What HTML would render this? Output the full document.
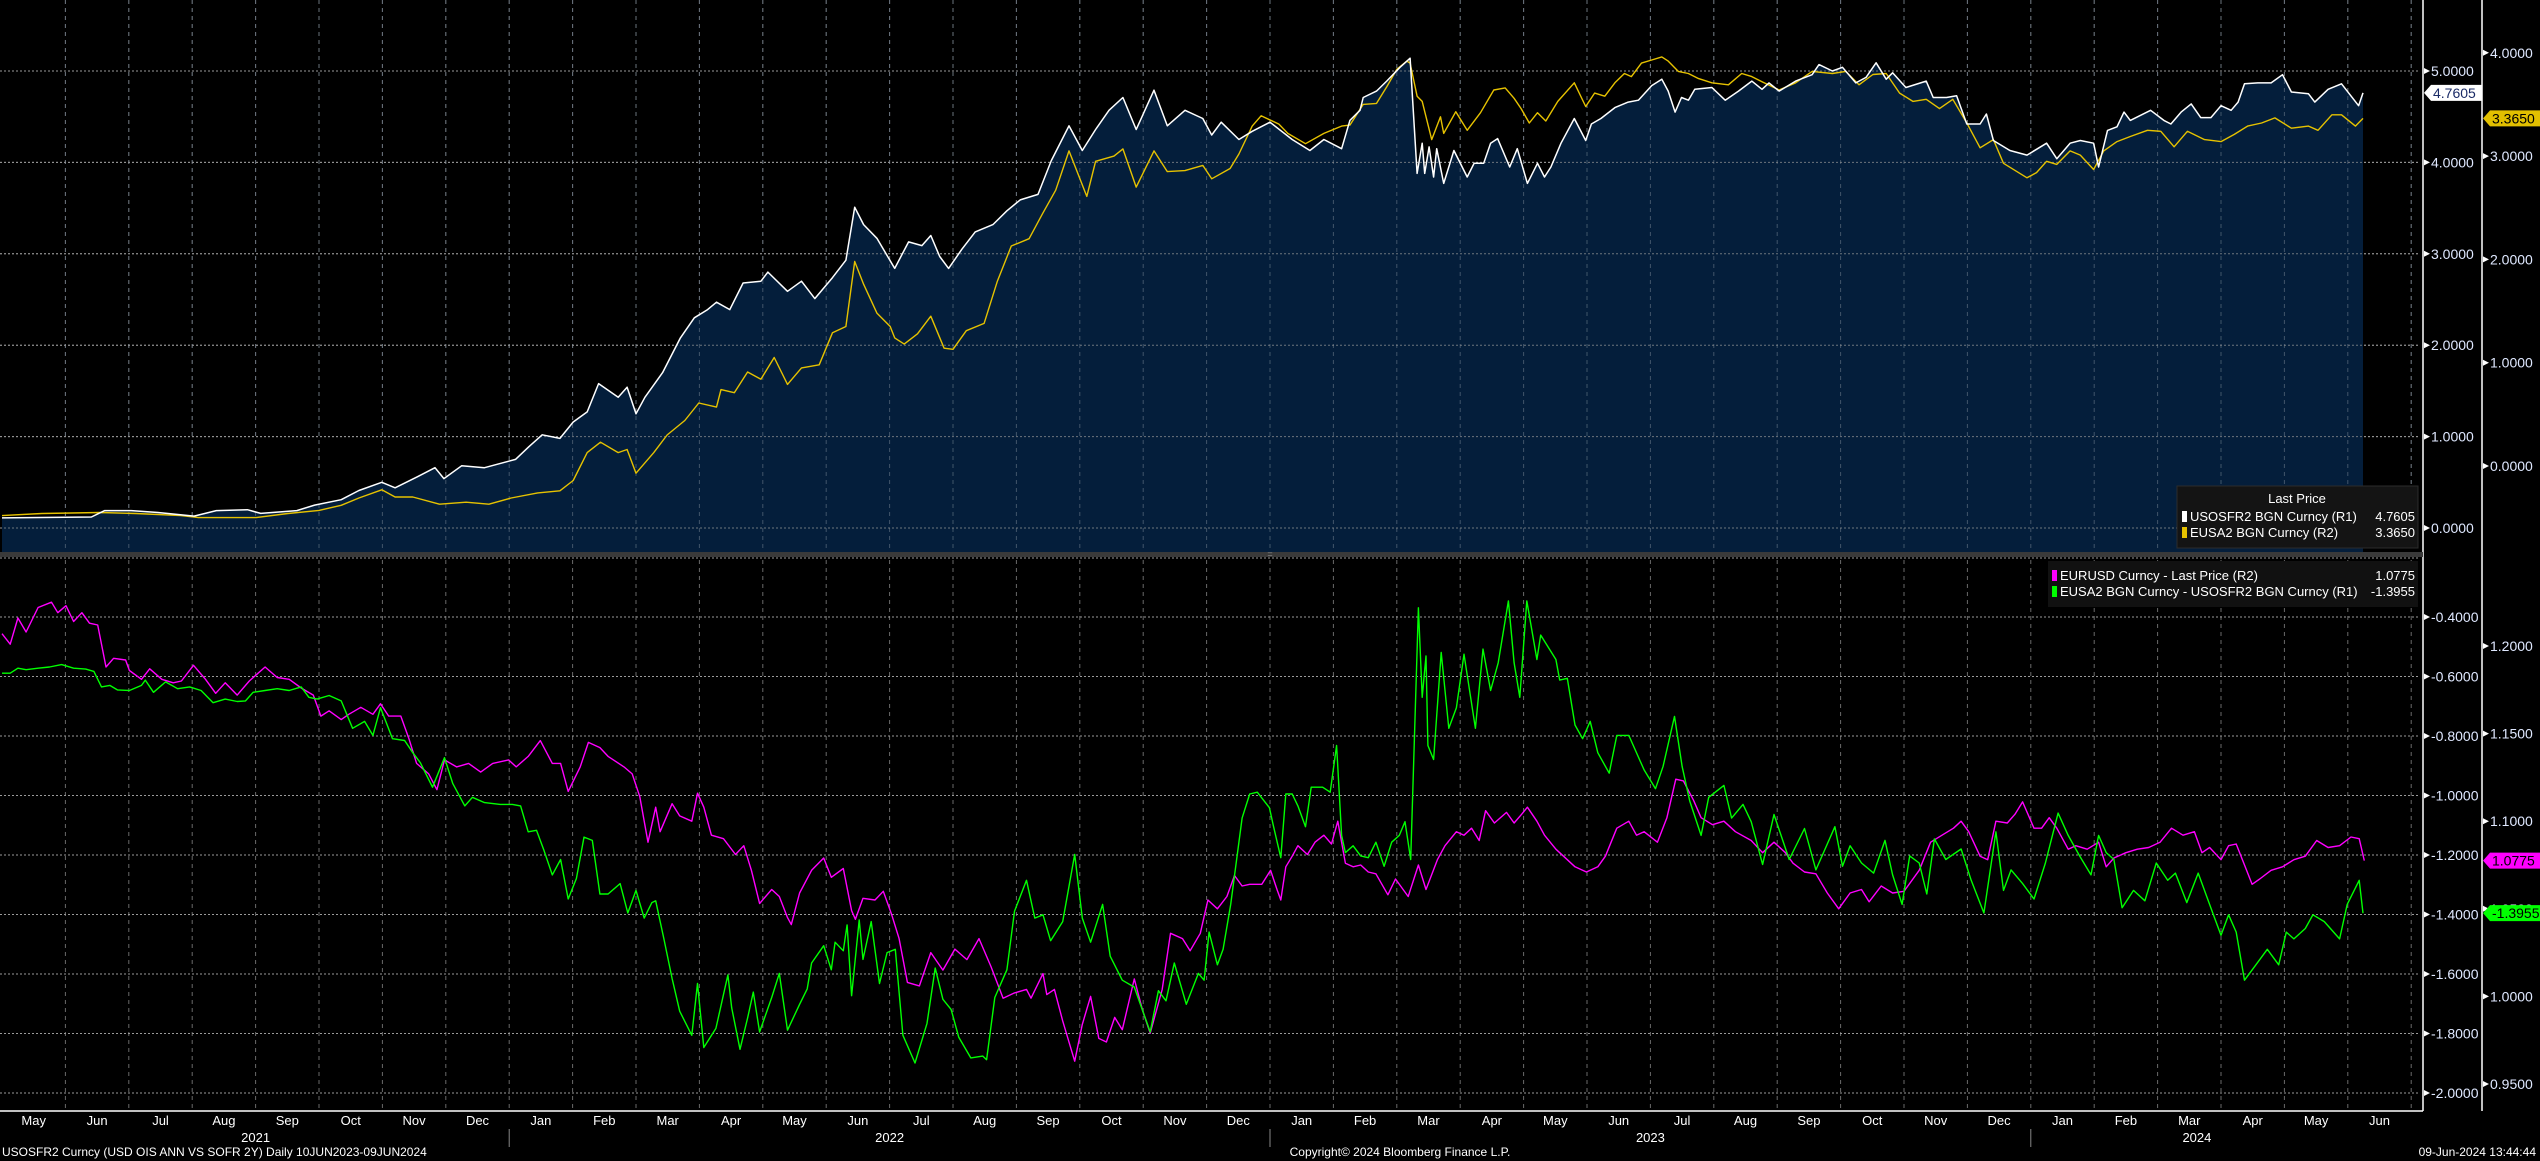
<!DOCTYPE html>
<html><head><meta charset="utf-8"><title>USOSFR2 vs EUSA2</title>
<style>
html,body{margin:0;padding:0;background:#000;}
svg{display:block;}
text{font-family:"Liberation Sans Narrow","Liberation Sans",sans-serif;}
</style></head>
<body>
<svg id="chart" width="2540" height="1161" viewBox="0 0 2540 1161" xmlns="http://www.w3.org/2000/svg">
<rect x="0" y="0" width="2540" height="1161" fill="#000"/>
<g id="grid"></g>
<g id="topPanel"></g>
<g id="bottomPanel"></g>
<g id="axes"></g>
<rect x="0" y="552" width="2423" height="5" fill="#3a3a3a"/>
<text x="1270" y="557" fill="#888" font-size="9" text-anchor="middle">=</text>

<g>
<rect x="2177" y="486" width="241" height="62" fill="#141414" stroke="#2c2c2c"/>
<text x="2297" y="503" fill="#fff" font-size="13" text-anchor="middle">Last Price</text>
<rect x="2182" y="511" width="5" height="11" fill="#fff"/>
<text x="2190" y="521" fill="#fff" font-size="13">USOSFR2 BGN Curncy  (R1)</text>
<text x="2415" y="521" fill="#fff" font-size="13" text-anchor="end">4.7605</text>
<rect x="2182" y="527" width="5" height="11" fill="#e6c200"/>
<text x="2190" y="537" fill="#fff" font-size="13">EUSA2 BGN Curncy  (R2)</text>
<text x="2415" y="537" fill="#fff" font-size="13" text-anchor="end">3.3650</text>
</g>

<g>
<rect x="2048" y="561" width="370" height="46" fill="#111"/>
<rect x="2052" y="570" width="5" height="11" fill="#ff00ff"/>
<text x="2060" y="580" fill="#fff" font-size="13">EURUSD Curncy - Last Price (R2)</text>
<text x="2415" y="580" fill="#fff" font-size="13" text-anchor="end">1.0775</text>
<rect x="2052" y="586" width="5" height="11" fill="#00ff00"/>
<text x="2060" y="596" fill="#fff" font-size="13">EUSA2 BGN Curncy - USOSFR2 BGN Curncy (R1)</text>
<text x="2415" y="596" fill="#fff" font-size="13" text-anchor="end">-1.3955</text>
</g>

<text x="2" y="1156" fill="#fff" font-size="12">USOSFR2 Curncy (USD OIS  ANN VS SOFR 2Y)  Daily 10JUN2023-09JUN2024</text>
<text x="1400" y="1156" fill="#fff" font-size="12" text-anchor="middle">Copyright© 2024 Bloomberg Finance L.P.</text>
<text x="2536" y="1156" fill="#fff" font-size="12" text-anchor="end">09-Jun-2024 13:44:44</text>
</svg>
<script>
// ---- data (t = months since 1 May 2021) ----
const usT=[0,1.41,1.62,2.04,2.46,3.03,3.38,3.87,4.08,4.65,4.93,5.35,5.63,5.99,6.20,6.55,6.83,6.97,7.25,7.61,8.10,8.31,8.52,8.80,9.01,9.23,9.41,9.72,9.86,10.0,10.14,10.42,10.70,10.92,11.13,11.27,11.48,11.69,11.97,12.08,12.39,12.61,12.82,13.10,13.31,13.45,13.59,13.80,14.08,14.30,14.51,14.65,14.79,14.93,15.14,15.35,15.63,15.85,16.06,16.34,16.55,16.83,17.04,17.25,17.46,17.68,17.89,18.17,18.38,18.66,18.94,19.08,19.23,19.51,19.72,20.0,20.35,20.63,20.85,21.13,
21.26,21.42,21.47,21.68,21.84,22.05,22.21,22.32,22.40,22.44,22.51,22.58,22.63,22.74,22.90,23.11,23.22,23.37,23.48,23.59,23.78,23.90,24.06,24.22,24.33,24.43,24.59,24.80,24.98,25.07,25.22,25.44,25.65,25.81,26.02,26.18,26.28,26.39,26.49,26.60,26.70,26.97,27.18,27.39,27.60,27.76,27.87,28.03,28.29,28.55,28.66,28.87,29.03,29.24,29.40,29.56,29.72,29.82,30.03,30.35,30.46,30.67,30.83,30.99,31.20,31.30,31.41,31.67,31.94,32.25,32.41,32.62,32.78,32.99,33.07,33.21,33.36,33.47,33.57,33.89,34.10,34.21,34.37,34.53,34.68,34.84,35.0,35.16,35.27,35.37,35.58,35.79,35.97,36.11,36.38,36.48,36.69,36.90,37.17,37.24];
const usV=[0.11,0.12,0.19,0.19,0.17,0.13,0.19,0.20,0.16,0.19,0.25,0.31,0.41,0.50,0.44,0.56,0.66,0.54,0.68,0.66,0.75,0.89,1.02,0.98,1.16,1.27,1.58,1.43,1.54,1.25,1.43,1.70,2.08,2.30,2.39,2.47,2.39,2.68,2.70,2.80,2.59,2.70,2.51,2.74,2.93,3.51,3.32,3.17,2.84,3.13,3.09,3.20,2.97,2.84,3.05,3.24,3.32,3.47,3.59,3.65,4.02,4.40,4.13,4.36,4.57,4.71,4.36,4.79,4.40,4.57,4.48,4.30,4.44,4.25,4.34,4.44,4.25,4.13,4.25,4.15,
4.46,4.57,4.71,4.78,4.89,5.04,5.14,3.88,4.21,3.88,4.17,3.84,4.15,3.77,4.13,3.84,3.99,3.99,4.21,4.26,3.95,4.15,3.77,3.99,3.84,3.95,4.21,4.48,4.24,4.42,4.48,4.60,4.66,4.68,4.84,4.91,4.78,4.55,4.71,4.68,4.80,4.82,4.68,4.78,4.89,4.80,4.87,4.78,4.89,4.96,5.07,5.00,5.04,4.87,4.93,5.09,4.91,4.98,4.82,4.89,4.71,4.71,4.73,4.42,4.42,4.53,4.24,4.13,4.08,4.21,4.04,4.21,4.24,4.21,3.95,4.35,4.39,4.55,4.46,4.57,4.46,4.42,4.55,4.64,4.49,4.49,4.62,4.57,4.66,4.86,4.87,4.87,4.96,4.77,4.75,4.66,4.80,4.86,4.62,4.7605];
const euT=[0,0.63,1.55,2.11,2.82,3.10,4.01,4.51,5.0,5.35,5.63,5.99,6.20,6.48,6.90,7.32,7.68,8.03,8.45,8.80,9.01,9.23,9.44,9.72,9.86,10.0,10.28,10.49,10.77,10.99,11.27,11.34,11.55,11.76,11.97,12.18,12.39,12.61,12.89,13.10,13.31,13.45,13.59,13.80,14.01,14.08,14.23,14.44,14.65,14.86,15.0,15.21,15.49,15.70,15.92,16.20,16.41,16.62,16.83,17.11,17.25,17.54,17.68,17.89,18.17,18.38,18.66,18.94,19.08,19.37,19.51,19.72,19.86,20.14,20.28,20.56,20.85,21.13,
21.26,21.47,21.68,21.84,22.0,22.16,22.21,22.32,22.40,22.55,22.69,22.74,22.93,23.11,23.32,23.53,23.71,23.85,23.96,24.09,24.22,24.35,24.54,24.80,24.98,25.12,25.28,25.44,25.59,25.70,25.86,26.02,26.18,26.28,26.44,26.60,26.76,26.97,27.23,27.44,27.60,27.76,28.03,28.29,28.55,28.87,29.08,29.29,29.51,29.72,29.93,30.14,30.35,30.56,30.77,30.99,31.20,31.41,31.57,31.94,32.09,32.25,32.41,32.62,32.78,32.99,33.15,33.36,33.57,33.84,34.05,34.26,34.47,34.74,35.0,35.21,35.42,35.64,35.85,36.11,36.38,36.53,36.75,36.90,37.12,37.24];
const euV=[-0.48,-0.46,-0.45,-0.46,-0.48,-0.50,-0.50,-0.46,-0.43,-0.38,-0.31,-0.23,-0.30,-0.30,-0.37,-0.35,-0.37,-0.31,-0.26,-0.24,-0.14,0.13,0.23,0.13,0.16,-0.07,0.13,0.30,0.44,0.61,0.57,0.74,0.71,0.91,0.84,1.05,0.79,0.95,0.98,1.29,1.35,1.98,1.76,1.48,1.35,1.24,1.18,1.28,1.45,1.14,1.13,1.31,1.38,1.79,2.13,2.20,2.44,2.67,3.05,2.61,2.95,3.00,3.07,2.70,3.05,2.85,2.86,2.91,2.78,2.88,3.02,3.29,3.39,3.31,3.22,3.12,3.22,3.29,
3.30,3.50,3.51,3.67,3.84,3.92,3.90,3.58,3.53,3.16,3.38,3.22,3.43,3.25,3.42,3.64,3.66,3.56,3.46,3.32,3.42,3.34,3.53,3.71,3.48,3.61,3.58,3.71,3.80,3.77,3.90,3.93,3.96,3.92,3.82,3.80,3.75,3.71,3.69,3.80,3.77,3.72,3.64,3.71,3.82,3.80,3.82,3.69,3.79,3.80,3.61,3.53,3.55,3.46,3.55,3.32,3.08,3.16,2.93,2.79,2.84,2.95,2.92,3.05,3.01,2.87,3.05,3.14,3.19,3.25,3.24,3.09,3.24,3.16,3.14,3.21,3.29,3.32,3.37,3.27,3.29,3.25,3.40,3.40,3.29,3.365];
const fxT=[0,.13,.25,.38,.57,.78,.88,1.01,1.13,1.26,1.38,1.51,1.64,1.76,1.95,2.01,2.20,2.33,2.52,2.70,2.83,3.02,3.21,3.37,3.52,3.71,3.90,4.15,4.34,4.53,4.72,4.91,5.03,5.16,5.35,5.47,5.66,5.85,5.97,6.10,6.29,6.42,6.54,6.73,6.86,6.98,7.17,7.36,7.55,7.74,7.99,8.11,8.30,8.49,8.68,8.81,8.93,9.12,9.25,9.43,9.56,9.81,9.94,10.06,10.19,10.31,10.38,10.57,10.69,10.88,10.97,11.07,11.19,11.38,11.57,11.70,11.82,11.95,12.14,12.26,12.39,12.45,12.58,12.77,12.96,13.08,13.27,13.40,13.46,13.58,13.77,13.90,14.03,14.15,14.28,14.47,14.65,14.84,15.03,15.22,15.41,15.60,15.79,15.97,16.16,16.23,16.42,16.48,16.60,16.73,16.92,17.04,17.17,17.30,17.42,17.55,17.67,17.86,17.99,18.11,18.30,18.43,18.62,18.74,
18.90,19.02,19.17,19.32,19.44,19.56,19.68,19.87,20.01,20.11,20.17,20.25,20.35,20.44,20.59,20.71,20.85,20.97,21.07,21.19,21.31,21.43,21.55,21.67,21.86,21.98,22.10,22.18,22.34,22.46,22.64,22.76,22.94,23.06,23.18,23.30,23.40,23.54,23.73,23.85,23.97,24.06,24.21,24.33,24.51,24.63,24.81,24.99,25.17,25.29,25.47,25.66,25.78,25.90,26.11,26.26,26.40,26.52,26.68,26.80,26.98,27.16,27.34,27.59,27.77,27.95,28.13,28.25,28.43,28.61,28.79,28.97,29.15,29.33,29.45,29.64,29.82,30.00,30.24,30.42,30.60,30.78,30.90,31.02,31.20,31.32,31.45,31.63,31.75,31.87,32.05,32.17,32.29,32.41,32.59,32.71,32.89,33.07,33.19,33.31,33.50,33.68,33.86,34.04,34.22,34.40,34.58,34.70,34.82,35.00,35.12,35.24,35.37,35.49,35.61,35.79,35.97,36.15,36.33,36.51,36.69,36.87,37.05,37.18,37.26];
const fxV=[1.207,1.201,1.216,1.208,1.222,1.225,1.219,1.223,1.214,1.219,1.213,1.212,1.188,1.193,1.192,1.186,1.181,1.187,1.181,1.179,1.180,1.189,1.181,1.173,1.179,1.172,1.180,1.188,1.182,1.181,1.176,1.172,1.160,1.163,1.158,1.161,1.165,1.161,1.167,1.160,1.160,1.147,1.133,1.127,1.118,1.135,1.131,1.133,1.128,1.133,1.135,1.131,1.137,1.146,1.133,1.133,1.117,1.131,1.145,1.142,1.137,1.131,1.127,1.114,1.088,1.108,1.094,1.110,1.103,1.100,1.116,1.108,1.092,1.090,1.081,1.086,1.072,1.053,1.061,1.057,1.045,1.041,1.059,1.072,1.079,1.068,1.073,1.049,1.044,1.056,1.055,1.060,1.047,1.033,1.008,1.006,1.025,1.015,1.027,1.021,1.033,1.017,0.999,1.002,1.004,0.999,1.013,1.001,1.004,0.986,0.963,0.984,1.000,0.976,0.974,0.988,0.981,1.010,0.992,0.979,1.004,1.036,1.033,1.026,
1.036,1.055,1.050,1.057,1.069,1.063,1.064,1.064,1.072,1.061,1.055,1.074,1.080,1.086,1.081,1.088,1.092,1.087,1.100,1.076,1.074,1.075,1.071,1.070,1.058,1.067,1.061,1.057,1.075,1.061,1.078,1.086,1.094,1.092,1.096,1.089,1.106,1.099,1.105,1.099,1.104,1.108,1.100,1.092,1.084,1.080,1.074,1.071,1.074,1.080,1.096,1.100,1.092,1.094,1.088,1.102,1.124,1.123,1.112,1.102,1.098,1.100,1.094,1.089,1.082,1.088,1.082,1.076,1.071,1.070,1.059,1.050,1.059,1.061,1.054,1.063,1.059,1.060,1.072,1.088,1.092,1.096,1.100,1.094,1.080,1.078,1.100,1.099,1.104,1.111,1.096,1.096,1.102,1.096,1.084,1.086,1.084,1.088,1.074,1.079,1.082,1.084,1.085,1.088,1.096,1.092,1.094,1.082,1.085,1.078,1.086,1.087,1.075,1.064,1.067,1.072,1.074,1.078,1.080,1.089,1.085,1.086,1.091,1.090,1.0775];
const spT=[0,.13,.25,.38,.57,.75,.94,1.13,1.32,1.45,1.57,1.70,1.82,2.01,2.20,2.26,2.39,2.58,2.77,2.96,3.14,3.33,3.52,3.71,3.84,3.96,4.15,4.34,4.53,4.72,4.84,4.97,5.16,5.35,5.53,5.72,5.85,5.97,6.16,6.35,6.48,6.60,6.79,6.98,7.11,7.30,7.42,7.61,7.86,8.05,8.18,8.30,8.43,8.55,8.68,8.81,8.93,9.06,9.18,9.31,9.43,9.56,9.75,9.87,10.0,10.13,10.25,10.31,10.44,10.57,10.69,10.88,10.97,11.07,11.26,11.45,11.51,11.64,11.76,11.85,11.95,12.14,12.26,12.39,12.58,12.70,12.77,12.96,13.08,13.14,13.27,13.33,13.40,13.52,13.58,13.71,13.84,13.96,14.09,14.21,14.40,14.59,14.72,14.84,14.97,15.09,15.28,15.47,15.53,15.66,15.85,15.97,16.16,16.29,16.42,16.54,16.73,16.92,17.04,17.17,17.36,17.48,17.67,17.86,18.11,18.24,18.36,18.49,18.68,18.87,
18.96,19.04,19.17,19.26,19.38,19.56,19.68,19.80,19.99,20.05,20.17,20.25,20.35,20.44,20.56,20.65,20.83,20.95,21.05,21.13,21.19,21.31,21.43,21.55,21.67,21.80,21.92,22.04,22.13,22.22,22.34,22.40,22.46,22.49,22.58,22.70,22.82,22.94,23.06,23.24,23.36,23.48,23.60,23.76,23.85,23.94,24.05,24.21,24.27,24.51,24.57,24.69,24.81,24.93,25.05,25.17,25.35,25.47,25.66,25.90,26.08,26.20,26.38,26.50,26.62,26.80,26.92,27.16,27.28,27.46,27.59,27.77,27.95,28.19,28.43,28.61,28.73,28.91,29.03,29.15,29.33,29.52,29.70,29.82,29.97,30.09,30.24,30.36,30.48,30.66,30.90,31.06,31.26,31.45,31.57,31.69,31.87,32.05,32.23,32.43,32.59,32.77,32.95,33.07,33.19,33.31,33.44,33.62,33.80,33.98,34.16,34.28,34.46,34.64,34.76,34.88,35.00,35.12,35.24,35.37,35.55,35.73,35.91,36.03,36.15,36.33,36.45,36.63,36.87,36.99,37.18,37.24];
const spV=[-0.589,-0.589,-0.572,-0.577,-0.572,-0.568,-0.560,-0.572,-0.575,-0.583,-0.635,-0.630,-0.645,-0.647,-0.630,-0.612,-0.653,-0.618,-0.641,-0.635,-0.647,-0.688,-0.676,-0.684,-0.682,-0.653,-0.647,-0.641,-0.647,-0.635,-0.670,-0.676,-0.664,-0.682,-0.774,-0.751,-0.798,-0.705,-0.809,-0.815,-0.856,-0.890,-0.972,-0.873,-0.960,-1.035,-1.006,-1.024,-1.030,-1.030,-1.035,-1.122,-1.117,-1.186,-1.267,-1.215,-1.348,-1.279,-1.140,-1.151,-1.331,-1.331,-1.296,-1.395,-1.319,-1.412,-1.360,-1.354,-1.482,-1.615,-1.725,-1.806,-1.632,-1.847,-1.783,-1.603,-1.714,-1.853,-1.748,-1.661,-1.795,-1.679,-1.598,-1.789,-1.702,-1.650,-1.563,-1.505,-1.586,-1.493,-1.522,-1.435,-1.673,-1.418,-1.551,-1.424,-1.632,-1.528,-1.517,-1.806,-1.899,-1.766,-1.580,-1.685,-1.719,-1.812,-1.882,-1.876,-1.888,-1.679,-1.586,-1.389,-1.285,-1.412,-1.401,-1.488,-1.424,-1.198,-1.412,-1.493,-1.366,-1.540,-1.621,-1.644,-1.795,-1.656,-1.690,-1.563,-1.702,-1.598,
-1.621,-1.459,-1.569,-1.517,-1.366,-1.076,-0.995,-0.989,-1.041,-1.099,-1.209,-0.995,-0.995,-1.035,-1.105,-0.972,-0.972,-0.989,-0.832,-1.134,-1.192,-1.169,-1.203,-1.209,-1.157,-1.238,-1.157,-1.134,-1.088,-1.215,-0.369,-0.670,-0.531,-0.832,-0.879,-0.519,-0.774,-0.705,-0.525,-0.774,-0.508,-0.647,-0.554,-0.346,-0.554,-0.670,-0.346,-0.543,-0.461,-0.543,-0.612,-0.606,-0.763,-0.809,-0.751,-0.856,-0.925,-0.798,-0.798,-0.914,-0.977,-0.902,-0.734,-0.902,-1.018,-1.134,-1.006,-0.966,-1.076,-1.030,-1.088,-1.232,-1.064,-1.215,-1.111,-1.250,-1.192,-1.105,-1.238,-1.169,-1.227,-1.261,-1.151,-1.267,-1.366,-1.203,-1.227,-1.331,-1.146,-1.215,-1.180,-1.285,-1.395,-1.122,-1.319,-1.250,-1.296,-1.348,-1.227,-1.059,-1.134,-1.203,-1.267,-1.134,-1.192,-1.215,-1.377,-1.319,-1.354,-1.227,-1.285,-1.261,-1.360,-1.261,-1.331,-1.401,-1.470,-1.401,-1.459,-1.621,-1.569,-1.517,-1.569,-1.459,-1.482,-1.447,-1.401,-1.424,-1.482,-1.366,-1.285,-1.3955];
const months=["May","Jun","Jul","Aug","Sep","Oct","Nov","Dec","Jan","Feb","Mar","Apr","May","Jun","Jul","Aug","Sep","Oct","Nov","Dec","Jan","Feb","Mar","Apr","May","Jun","Jul","Aug","Sep","Oct","Nov","Dec","Jan","Feb","Mar","Apr","May","Jun"];
const years=["2021","2022","2023","2024"];
const yearStart=[0,8,20,32];
const topR1Ticks=[0,1,2,3,4,5];
const topR2Ticks=[0,1,2,3,4];
const botR1Ticks=[-0.4,-0.6,-0.8,-1.0,-1.2,-1.4,-1.6,-1.8,-2.0];
const botR2Ticks=[1.20,1.15,1.10,1.05,1.00,0.95];

// ---- scales ----
const X=t=>2+t*63.4;
const usY=v=>528-v*91.4;
const euY=v=>466-v*103.3;
const spY=v=>617+(-0.4-v)*297.5;
const fxY=v=>646+(1.2-v)*1752;
const NS="http://www.w3.org/2000/svg";
function mk(tag,parent,attrs){const e=document.createElementNS(NS,tag);for(const k in attrs)e.setAttribute(k,attrs[k]);parent.appendChild(e);return e;}
const gridG=document.getElementById('grid'),topG=document.getElementById('topPanel'),botG=document.getElementById('bottomPanel'),axesG=document.getElementById('axes');
const PR=2418;

// top area
let d='M'+X(usT[0])+',552';
for(let i=0;i<usT.length;i++)d+=' L'+X(usT[i]).toFixed(1)+','+usY(usV[i]).toFixed(1);
d+=' L'+X(usT[usT.length-1]).toFixed(1)+',552 Z';
const area=mk('path',topG,{d:d,fill:'#041e3b'});



// grid
for(let k=1;k<=38;k++){const x=X(k);
 const g1=mk('line',gridG,{x1:x,y1:0,x2:x,y2:1111,stroke:'#6a6a6a','stroke-width':1,'stroke-dasharray':'4,4'});
 
 }
topR1Ticks.forEach(v=>{const g=mk('line',gridG,{x1:0,y1:usY(v),x2:PR,y2:usY(v),stroke:'#9a9a9a','stroke-dasharray':'2,2'});
 
 });
botR1Ticks.forEach(v=>{const g=mk('line',gridG,{x1:0,y1:spY(v),x2:PR,y2:spY(v),stroke:'#9a9a9a','stroke-dasharray':'2,2'});
 
 });
const g0=mk('line',gridG,{x1:0,y1:558,x2:PR,y2:558,stroke:'#9a9a9a','stroke-dasharray':'2,2'});



// gridlines drawn over area in top panel too
const gridOver=mk('g',topG,{});


for(let k=1;k<=38;k++){const x=X(k);
 const g2=mk('line',gridOver,{x1:x,y1:0,x2:x,y2:552,stroke:'#6a7a8a','stroke-width':1,'stroke-dasharray':'4,4','stroke-opacity':0.6});
 
 }
topR1Ticks.forEach(v=>{const g=mk('line',gridOver,{x1:0,y1:usY(v),x2:PR,y2:usY(v),stroke:'#9a9a9a','stroke-dasharray':'2,2','stroke-opacity':0.7});
 
 });

function line(parent,T,V,xf,yf,color,w,name){let p='';for(let i=0;i<T.length;i++)p+=(i?' L':'M')+xf(T[i]).toFixed(1)+','+yf(V[i]).toFixed(1);
 const e=mk('path',parent,{d:p,fill:'none',stroke:color,'stroke-width':w,'stroke-linejoin':'round'});
 
 return e;}
line(topG,euT,euV,X,euY,'#e6c200',1.4,'eusa2-line');
line(topG,usT,usV,X,usY,'#ffffff',1.5,'usosfr2-line');
line(botG,fxT,fxV,X,fxY,'#ff00ff',1.4,'eurusd-line');
line(botG,spT,spV,X,spY,'#00ff00',1.4,'spread-line');

// axes lines
[[2423,0,2423,1111],[2482,0,2482,1111],[0,1111,2423,1111]].forEach(a=>{const e=mk('line',axesG,{x1:a[0],y1:a[1],x2:a[2],y2:a[3],stroke:'#fff','stroke-width':1.5});
 
 });
function tickLabel(x,y,txt,name){
 const m=mk('path',axesG,{d:`M${x},${y-3} L${x+6},${y} L${x},${y+3} Z`,fill:'#fff'});
 
 
 const t=mk('text',axesG,{x:x+7,y:y+5,fill:'#dfe8ff','font-size':14});t.textContent=txt;
 
 }
topR1Ticks.forEach(v=>tickLabel(2424,usY(v),v.toFixed(4),'top-r1-tick'));
topR2Ticks.forEach(v=>tickLabel(2483,euY(v),v.toFixed(4),'top-r2-tick'));
botR1Ticks.forEach(v=>tickLabel(2424,spY(v),v.toFixed(4),'bottom-r1-tick'));
botR2Ticks.forEach(v=>tickLabel(2483,fxY(v),v.toFixed(4),'bottom-r2-tick'));

// value tags
function tag(x,y,txt,bg,fg,name){
 const p=mk('path',axesG,{d:`M${x},${y} L${x+7},${y-8} L${x+58},${y-8} L${x+58},${y+8} L${x+7},${y+8} Z`,fill:bg});
 
 
 const t=mk('text',axesG,{x:x+9,y:y+5,fill:fg,'font-size':14});t.textContent=txt;
 
 }
tag(2424,usY(usV[usV.length-1]),'4.7605','#ffffff','#1a2a66','usosfr2-last-tag');
tag(2483,euY(euV[euV.length-1]),'3.3650','#e2c000','#000','eusa2-last-tag');
tag(2483,fxY(fxV[fxV.length-1]),'1.0775','#ff00ff','#000','eurusd-last-tag');
tag(2483,spY(spV[spV.length-1]),'-1.3955','#00ff00','#000','spread-last-tag');

// x axis
months.forEach((m,k)=>{const t=mk('text',axesG,{x:X(k+0.5),y:1125,fill:'#fff','font-size':13,'text-anchor':'middle'});t.textContent=m;
 
 });
years.forEach((y,i)=>{const s=X(yearStart[i]);const e=i<3?X(yearStart[i+1]):X(37.24);
 const t=mk('text',axesG,{x:(s+e)/2,y:1142,fill:'#fff','font-size':13,'text-anchor':'middle'});t.textContent=y;
 
 
 if(i>0){const l=mk('line',axesG,{x1:s,y1:1129,x2:s,y2:1147,stroke:'#888'});
 
 }});
</script>
</body></html>
